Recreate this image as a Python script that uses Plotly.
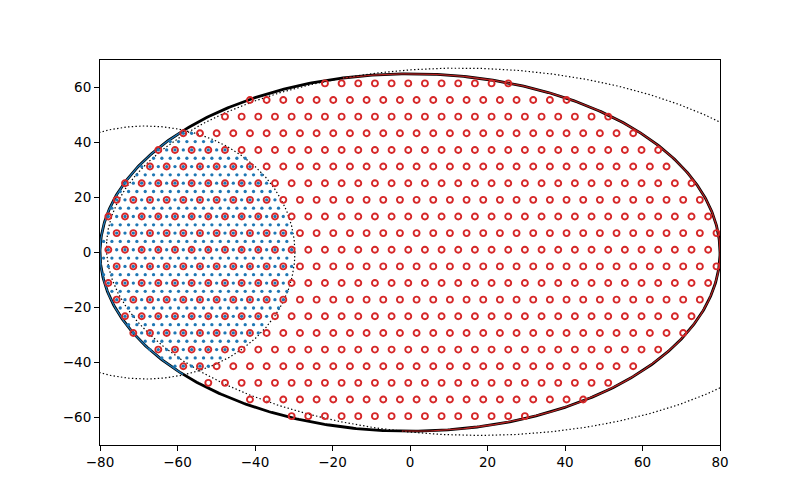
import numpy as np
import plotly.graph_objects as go

# ellipses: centre x, centre y, semi-axis x, semi-axis y, tilt (deg)
frame_ell = [0.0, 0.0, 80.0, 65.0, 0.0]
left_ell = [-68.2, 0.0, 38.5, 46.0, 0.0]

# points
wide_px = [80.0, 80.0, -49.5, -24.5, -40.0, -20.0, 3.0, -3.0, 17.0]
wide_py = [48.4, -48.2, -46.4, -58.5, 56.3, 62.9, 65.2, -65.0, -67.8]

# coarse lattice (red rings)
red_rows_y = [61.5, 55.45, 49.4, 43.35, 37.3, 31.25, 25.2, 19.15, 13.1, 7.05, 1.0,
              -5.05, -11.1, -17.15, -23.2, -29.25, -35.3, -41.35, -47.4, -53.45, -59.5]
red_cols_a = [-77.85, -73.55, -69.25, -64.95, -60.65, -56.35, -52.05, -47.75, -43.45,
              -39.15, -34.85, -30.55, -26.25, -21.95, -17.65, -13.35, -9.05, -4.75,
              -0.45, 3.85, 8.15, 12.45, 16.75, 21.05, 25.35, 29.65, 33.95, 38.25,
              42.55, 46.85, 51.15, 55.45, 59.75, 64.05, 68.35, 72.65, 76.95]
red_cols_b = [-80.0, -75.7, -71.4, -67.1, -62.8, -58.5, -54.2, -49.9, -45.6, -41.3,
              -37.0, -32.7, -28.4, -24.1, -19.8, -15.5, -11.2, -6.9, -2.6, 1.7, 6.0,
              10.3, 14.6, 18.9, 23.2, 27.5, 31.8, 36.1, 40.4, 44.7, 49.0, 53.3, 57.6,
              61.9, 66.2, 70.5, 74.8, 79.1]

# fine lattice (blue dots)
blue_rows_y = [46.38, 43.35, 40.33, 37.3, 34.28, 31.25, 28.23, 25.2, 22.18, 19.15,
               16.13, 13.1, 10.08, 7.05, 4.03, 1.0, -2.03, -5.05, -8.08, -11.1,
               -14.13, -17.15, -20.18, -23.2, -26.23, -29.25, -32.28, -35.3, -38.33,
               -41.35, -44.38]
blue_cols_a = [-79.08, -76.93, -74.78, -72.63, -70.48, -68.33, -66.18, -64.03, -61.88,
               -59.73, -57.58, -55.43, -53.28, -51.13, -48.98, -46.83, -44.68, -42.53,
               -40.38, -38.23, -36.08, -33.93, -31.78, -29.63]
blue_cols_b = [-80.0, -77.85, -75.7, -73.55, -71.4, -69.25, -67.1, -64.95, -62.8,
               -60.65, -58.5, -56.35, -54.2, -52.05, -49.9, -47.75, -45.6, -43.45,
               -41.3, -39.15, -37.0, -34.85, -32.7, -30.55, -28.4]


def fit_ellipse(px, py):
    # least-squares conic through the read points -> centre, axes, tilt
    x, y = np.asarray(px) / 100.0, np.asarray(py) / 100.0
    m = np.column_stack([x * x, x * y, y * y, x, y, np.ones_like(x)])
    A, B, C, D, E, F = np.linalg.svd(m)[2][-1]
    x0, y0 = np.linalg.solve([[2 * A, B], [B, 2 * C]], [-D, -E])
    fc = A * x0 * x0 + B * x0 * y0 + C * y0 * y0 + D * x0 + E * y0 + F
    w, v = np.linalg.eigh([[A, B / 2], [B / 2, C]])
    ax = np.sqrt(-fc / w)
    ang = np.degrees(np.arctan2(v[1, 0], v[0, 0]))
    return [x0 * 100, y0 * 100, ax[0] * 100, ax[1] * 100, ang]


wide_ell = fit_ellipse(wide_px, wide_py)


def inside(x, y, ell):
    cx, cy, a, b, ang = ell
    t = np.radians(ang)
    dx, dy = np.asarray(x) - cx, np.asarray(y) - cy
    u = dx * np.cos(t) + dy * np.sin(t)
    v = -dx * np.sin(t) + dy * np.cos(t)
    return (u / a) ** 2 + (v / b) ** 2 < 1.0


def outline(ell, n=721):
    cx, cy, a, b, ang = ell
    t = np.radians(ang)
    s = np.linspace(0, 2 * np.pi, n)
    u, v = a * np.cos(s), b * np.sin(s)
    return cx + u * np.cos(t) - v * np.sin(t), cy + u * np.sin(t) + v * np.cos(t)


def lattice(rows, cols_a, cols_b):
    xs, ys = [], []
    for i, y in enumerate(rows):
        for x in (cols_a if i % 2 == 0 else cols_b):
            xs.append(x)
            ys.append(y)
    return np.array(xs), np.array(ys)


rx, ry = lattice(red_rows_y, red_cols_a, red_cols_b)
keep = inside(rx, ry, frame_ell)
rx, ry = rx[keep], ry[keep]

bx, by = lattice(blue_rows_y, blue_cols_a, blue_cols_b)
keep = inside(bx, by, frame_ell) & inside(bx, by, left_ell)
bx, by = bx[keep], by[keep]

fx, fy = outline(frame_ell)
lx, ly = outline(left_ell)
wx, wy = outline(wide_ell)

fig = go.Figure()

fig.add_trace(go.Scatter(x=fx, y=fy, mode="lines", line=dict(color="black", width=2.8)))

# arcs of the frame that fall in each footprint
arc_r = np.where(inside(fx * 0.999, fy * 0.999, wide_ell), fy, np.nan)
arc_b = np.where(inside(fx * 0.999, fy * 0.999, left_ell), fy, np.nan)
fig.add_trace(go.Scatter(x=fx, y=arc_r, mode="lines", line=dict(color="#b22222", width=1.3)))
fig.add_trace(go.Scatter(x=fx, y=arc_b, mode="lines", line=dict(color="#1f77b4", width=1.3)))

dots = dict(color="black", width=1.2, dash="1.4px,2.3px")
fig.add_trace(go.Scatter(x=lx, y=ly, mode="lines", line=dots))
fig.add_trace(go.Scatter(x=wx, y=wy, mode="lines", line=dots))

fig.add_trace(go.Scatter(
    x=rx, y=ry, mode="markers",
    marker=dict(symbol="circle-open", size=6, color="#d62728", line=dict(width=1.9)),
))
fig.add_trace(go.Scatter(
    x=bx, y=by, mode="markers",
    marker=dict(symbol="circle", size=3.3, color="#1f77b4", line=dict(width=0)),
))

axis = dict(
    showline=True, mirror=True, linecolor="black", linewidth=1,
    ticks="outside", ticklen=5, tickcolor="black",
    showgrid=False, zeroline=False,
    tickfont=dict(family="DejaVu Sans", size=13.5, color="black"),
)
fig.update_xaxes(range=[-80, 80], tickvals=[-80, -60, -40, -20, 0, 20, 40, 60, 80], **axis)
fig.update_yaxes(range=[-70, 70], tickvals=[-60, -40, -20, 0, 20, 40, 60], **axis)

fig.update_layout(
    width=800, height=500,
    margin=dict(l=92, r=88, t=52, b=63),
    plot_bgcolor="white", paper_bgcolor="white",
    showlegend=False,
)

fig.write_html("out.html")
